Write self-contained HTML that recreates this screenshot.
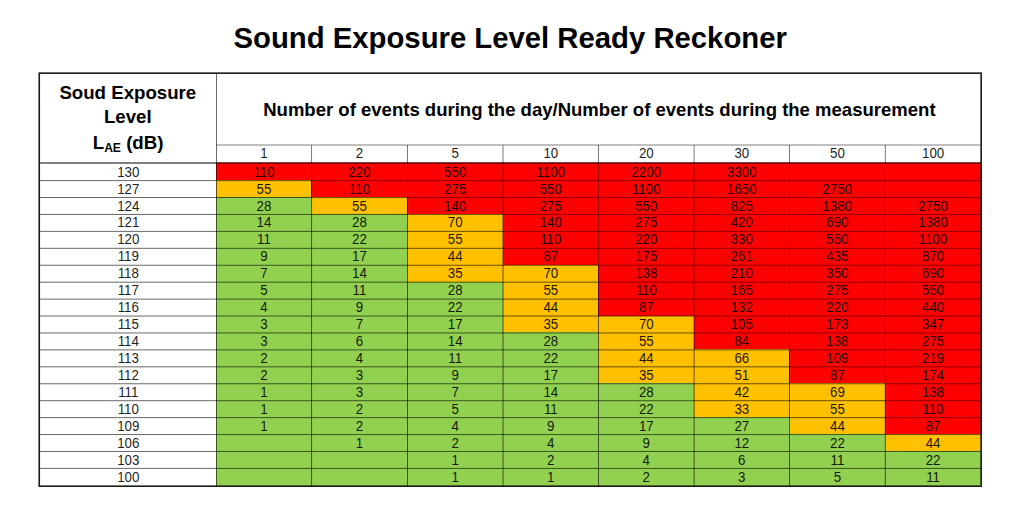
<!DOCTYPE html>
<html lang="en"><head><meta charset="utf-8"><title>Sound Exposure Level Ready Reckoner</title>
<style>
html,body{margin:0;padding:0;background:#fff;}
body{width:1024px;height:514px;overflow:hidden;font-family:"Liberation Sans",sans-serif;}
svg{display:block;}
text{font-family:"Liberation Sans",sans-serif;fill:#000;}
.d{font-size:13.33px;text-anchor:middle;fill-opacity:0.9;}
.b{font-weight:bold;text-anchor:middle;}
</style></head><body>
<svg width="1024" height="514" viewBox="0 0 1024 514">
<rect x="0" y="0" width="1024" height="514" fill="#ffffff"/>
<text class="b" transform="translate(510.2,47.6) scale(1,1.02)" font-size="29.3">Sound Exposure Level Ready Reckoner</text>
<g shape-rendering="crispEdges">
<rect x="216" y="162.5" width="765" height="17.5" fill="#ff0000" shape-rendering="geometricPrecision"/>
<rect x="216" y="180" width="95" height="17" fill="#ffc000"/>
<rect x="311" y="180" width="670" height="17" fill="#ff0000"/>
<rect x="216" y="197" width="95" height="17" fill="#92d050"/>
<rect x="311" y="197" width="96" height="17" fill="#ffc000"/>
<rect x="407" y="197" width="574" height="17" fill="#ff0000"/>
<rect x="216" y="214" width="191" height="17" fill="#92d050"/>
<rect x="407" y="214" width="96" height="17" fill="#ffc000"/>
<rect x="503" y="214" width="478" height="17" fill="#ff0000"/>
<rect x="216" y="231" width="191" height="17" fill="#92d050"/>
<rect x="407" y="231" width="96" height="17" fill="#ffc000"/>
<rect x="503" y="231" width="478" height="17" fill="#ff0000"/>
<rect x="216" y="248" width="191" height="17" fill="#92d050"/>
<rect x="407" y="248" width="96" height="17" fill="#ffc000"/>
<rect x="503" y="248" width="478" height="17" fill="#ff0000"/>
<rect x="216" y="265" width="191" height="17" fill="#92d050"/>
<rect x="407" y="265" width="191" height="17" fill="#ffc000"/>
<rect x="598" y="265" width="383" height="17" fill="#ff0000"/>
<rect x="216" y="282" width="287" height="17" fill="#92d050"/>
<rect x="503" y="282" width="95" height="17" fill="#ffc000"/>
<rect x="598" y="282" width="383" height="17" fill="#ff0000"/>
<rect x="216" y="299" width="287" height="17" fill="#92d050"/>
<rect x="503" y="299" width="95" height="17" fill="#ffc000"/>
<rect x="598" y="299" width="383" height="17" fill="#ff0000"/>
<rect x="216" y="316" width="287" height="16" fill="#92d050"/>
<rect x="503" y="316" width="191" height="16" fill="#ffc000"/>
<rect x="694" y="316" width="287" height="16" fill="#ff0000"/>
<rect x="216" y="332" width="382" height="17" fill="#92d050"/>
<rect x="598" y="332" width="96" height="17" fill="#ffc000"/>
<rect x="694" y="332" width="287" height="17" fill="#ff0000"/>
<rect x="216" y="349" width="382" height="17" fill="#92d050"/>
<rect x="598" y="349" width="191" height="17" fill="#ffc000"/>
<rect x="789" y="349" width="192" height="17" fill="#ff0000"/>
<rect x="216" y="366" width="382" height="17" fill="#92d050"/>
<rect x="598" y="366" width="191" height="17" fill="#ffc000"/>
<rect x="789" y="366" width="192" height="17" fill="#ff0000"/>
<rect x="216" y="383" width="478" height="17" fill="#92d050"/>
<rect x="694" y="383" width="191" height="17" fill="#ffc000"/>
<rect x="885" y="383" width="96" height="17" fill="#ff0000"/>
<rect x="216" y="400" width="478" height="17" fill="#92d050"/>
<rect x="694" y="400" width="191" height="17" fill="#ffc000"/>
<rect x="885" y="400" width="96" height="17" fill="#ff0000"/>
<rect x="216" y="417" width="573" height="17" fill="#92d050"/>
<rect x="789" y="417" width="96" height="17" fill="#ffc000"/>
<rect x="885" y="417" width="96" height="17" fill="#ff0000"/>
<rect x="216" y="434" width="669" height="17" fill="#92d050"/>
<rect x="885" y="434" width="96" height="17" fill="#ffc000"/>
<rect x="216" y="451" width="765" height="17" fill="#92d050"/>
<rect x="216" y="468" width="765" height="18" fill="#92d050"/>
</g>
<g stroke="#000" stroke-width="0.85" fill="none">
<line x1="39.0" y1="180.60" x2="216.5" y2="180.60" stroke-opacity="0.70"/>
<line x1="216.5" y1="180.60" x2="311.6" y2="180.60" stroke-opacity="0.70"/>
<line x1="311.6" y1="180.60" x2="981.0" y2="180.60" stroke-opacity="0.53"/>
<line x1="39.0" y1="197.53" x2="216.5" y2="197.53" stroke-opacity="0.70"/>
<line x1="216.5" y1="197.53" x2="407.5" y2="197.53" stroke-opacity="0.70"/>
<line x1="407.5" y1="197.53" x2="981.0" y2="197.53" stroke-opacity="0.53"/>
<line x1="39.0" y1="214.46" x2="216.5" y2="214.46" stroke-opacity="0.70"/>
<line x1="216.5" y1="214.46" x2="503.0" y2="214.46" stroke-opacity="0.70"/>
<line x1="503.0" y1="214.46" x2="981.0" y2="214.46" stroke-opacity="0.53"/>
<line x1="39.0" y1="231.39" x2="216.5" y2="231.39" stroke-opacity="0.70"/>
<line x1="216.5" y1="231.39" x2="503.0" y2="231.39" stroke-opacity="0.70"/>
<line x1="503.0" y1="231.39" x2="981.0" y2="231.39" stroke-opacity="0.53"/>
<line x1="39.0" y1="248.32" x2="216.5" y2="248.32" stroke-opacity="0.70"/>
<line x1="216.5" y1="248.32" x2="503.0" y2="248.32" stroke-opacity="0.70"/>
<line x1="503.0" y1="248.32" x2="981.0" y2="248.32" stroke-opacity="0.53"/>
<line x1="39.0" y1="265.25" x2="216.5" y2="265.25" stroke-opacity="0.70"/>
<line x1="216.5" y1="265.25" x2="598.5" y2="265.25" stroke-opacity="0.70"/>
<line x1="598.5" y1="265.25" x2="981.0" y2="265.25" stroke-opacity="0.53"/>
<line x1="39.0" y1="282.18" x2="216.5" y2="282.18" stroke-opacity="0.70"/>
<line x1="216.5" y1="282.18" x2="598.5" y2="282.18" stroke-opacity="0.70"/>
<line x1="598.5" y1="282.18" x2="981.0" y2="282.18" stroke-opacity="0.53"/>
<line x1="39.0" y1="299.11" x2="216.5" y2="299.11" stroke-opacity="0.70"/>
<line x1="216.5" y1="299.11" x2="598.5" y2="299.11" stroke-opacity="0.70"/>
<line x1="598.5" y1="299.11" x2="981.0" y2="299.11" stroke-opacity="0.53"/>
<line x1="39.0" y1="316.04" x2="216.5" y2="316.04" stroke-opacity="0.70"/>
<line x1="216.5" y1="316.04" x2="694.1" y2="316.04" stroke-opacity="0.70"/>
<line x1="694.1" y1="316.04" x2="981.0" y2="316.04" stroke-opacity="0.53"/>
<line x1="39.0" y1="332.97" x2="216.5" y2="332.97" stroke-opacity="0.70"/>
<line x1="216.5" y1="332.97" x2="694.1" y2="332.97" stroke-opacity="0.70"/>
<line x1="694.1" y1="332.97" x2="981.0" y2="332.97" stroke-opacity="0.53"/>
<line x1="39.0" y1="349.90" x2="216.5" y2="349.90" stroke-opacity="0.70"/>
<line x1="216.5" y1="349.90" x2="789.5" y2="349.90" stroke-opacity="0.70"/>
<line x1="789.5" y1="349.90" x2="981.0" y2="349.90" stroke-opacity="0.53"/>
<line x1="39.0" y1="366.83" x2="216.5" y2="366.83" stroke-opacity="0.70"/>
<line x1="216.5" y1="366.83" x2="789.5" y2="366.83" stroke-opacity="0.70"/>
<line x1="789.5" y1="366.83" x2="981.0" y2="366.83" stroke-opacity="0.53"/>
<line x1="39.0" y1="383.76" x2="216.5" y2="383.76" stroke-opacity="0.70"/>
<line x1="216.5" y1="383.76" x2="885.3" y2="383.76" stroke-opacity="0.70"/>
<line x1="885.3" y1="383.76" x2="981.0" y2="383.76" stroke-opacity="0.53"/>
<line x1="39.0" y1="400.69" x2="216.5" y2="400.69" stroke-opacity="0.70"/>
<line x1="216.5" y1="400.69" x2="885.3" y2="400.69" stroke-opacity="0.70"/>
<line x1="885.3" y1="400.69" x2="981.0" y2="400.69" stroke-opacity="0.53"/>
<line x1="39.0" y1="417.62" x2="216.5" y2="417.62" stroke-opacity="0.70"/>
<line x1="216.5" y1="417.62" x2="885.3" y2="417.62" stroke-opacity="0.70"/>
<line x1="885.3" y1="417.62" x2="981.0" y2="417.62" stroke-opacity="0.53"/>
<line x1="39.0" y1="434.55" x2="216.5" y2="434.55" stroke-opacity="0.70"/>
<line x1="216.5" y1="434.55" x2="981.0" y2="434.55" stroke-opacity="0.70"/>
<line x1="39.0" y1="451.48" x2="216.5" y2="451.48" stroke-opacity="0.70"/>
<line x1="216.5" y1="451.48" x2="981.0" y2="451.48" stroke-opacity="0.70"/>
<line x1="39.0" y1="468.41" x2="216.5" y2="468.41" stroke-opacity="0.70"/>
<line x1="216.5" y1="468.41" x2="981.0" y2="468.41" stroke-opacity="0.70"/>
<line x1="311.55" y1="145.0" x2="311.55" y2="163.0" stroke-opacity="0.62"/>
<line x1="311.55" y1="163.00" x2="311.55" y2="180.60" stroke-opacity="0.45"/>
<line x1="311.55" y1="180.60" x2="311.55" y2="486.00" stroke-opacity="0.70"/>
<line x1="407.50" y1="145.0" x2="407.50" y2="163.0" stroke-opacity="0.62"/>
<line x1="407.50" y1="163.00" x2="407.50" y2="197.53" stroke-opacity="0.45"/>
<line x1="407.50" y1="197.53" x2="407.50" y2="486.00" stroke-opacity="0.70"/>
<line x1="503.00" y1="145.0" x2="503.00" y2="163.0" stroke-opacity="0.62"/>
<line x1="503.00" y1="163.00" x2="503.00" y2="214.46" stroke-opacity="0.45"/>
<line x1="503.00" y1="214.46" x2="503.00" y2="486.00" stroke-opacity="0.70"/>
<line x1="598.50" y1="145.0" x2="598.50" y2="163.0" stroke-opacity="0.62"/>
<line x1="598.50" y1="163.00" x2="598.50" y2="265.25" stroke-opacity="0.45"/>
<line x1="598.50" y1="265.25" x2="598.50" y2="486.00" stroke-opacity="0.70"/>
<line x1="694.10" y1="145.0" x2="694.10" y2="163.0" stroke-opacity="0.62"/>
<line x1="694.10" y1="163.00" x2="694.10" y2="316.04" stroke-opacity="0.45"/>
<line x1="694.10" y1="316.04" x2="694.10" y2="486.00" stroke-opacity="0.70"/>
<line x1="789.50" y1="145.0" x2="789.50" y2="163.0" stroke-opacity="0.62"/>
<line x1="789.50" y1="163.00" x2="789.50" y2="349.90" stroke-opacity="0.45"/>
<line x1="789.50" y1="349.90" x2="789.50" y2="486.00" stroke-opacity="0.70"/>
<line x1="885.30" y1="145.0" x2="885.30" y2="163.0" stroke-opacity="0.62"/>
<line x1="885.30" y1="163.00" x2="885.30" y2="383.76" stroke-opacity="0.45"/>
<line x1="885.30" y1="383.76" x2="885.30" y2="486.00" stroke-opacity="0.70"/>
<line x1="216.50" y1="73.0" x2="216.50" y2="486.0" stroke-opacity="0.70"/>
</g>
<line x1="216.5" y1="145.0" x2="981.0" y2="145.0" stroke="rgba(0,0,0,0.33)" stroke-width="1.6"/>
<line x1="39.0" y1="163.0" x2="981.0" y2="163.0" stroke="rgba(0,0,0,0.5)" stroke-width="1.9"/>
<rect x="39.25" y="73.15" width="941.90" height="413.05" fill="none" stroke="#1a1a1a" stroke-width="1.6"/>
<text class="b" x="127.8" y="98.8" font-size="18.67">Soud Exposure</text>
<text class="b" x="127.8" y="123.1" font-size="18.67">Level</text>
<text class="b" x="128.1" y="148.6" font-size="18.67">L<tspan font-size="12.1" dy="3.6">AE</tspan><tspan dy="-3.6"> (dB)</tspan></text>
<text class="b" x="599.4" y="115.6" font-size="18.54">Number of events during the day/Number of events during the measurement</text>
<text class="d" transform="translate(264.0,157.8) scale(1,1.04)">1</text>
<text class="d" transform="translate(359.5,157.8) scale(1,1.04)">2</text>
<text class="d" transform="translate(455.2,157.8) scale(1,1.04)">5</text>
<text class="d" transform="translate(550.8,157.8) scale(1,1.04)">10</text>
<text class="d" transform="translate(646.3,157.8) scale(1,1.04)">20</text>
<text class="d" transform="translate(741.8,157.8) scale(1,1.04)">30</text>
<text class="d" transform="translate(837.4,157.8) scale(1,1.04)">50</text>
<text class="d" transform="translate(933.1,157.8) scale(1,1.04)">100</text>
<text class="d" transform="translate(128.3,176.6) scale(1,1.04)">130</text>
<text class="d" transform="translate(264.0,176.6) scale(1,1.04)">110</text>
<text class="d" transform="translate(359.5,176.6) scale(1,1.04)">220</text>
<text class="d" transform="translate(455.2,176.6) scale(1,1.04)">550</text>
<text class="d" transform="translate(550.8,176.6) scale(1,1.04)">1100</text>
<text class="d" transform="translate(646.3,176.6) scale(1,1.04)">2200</text>
<text class="d" transform="translate(741.8,176.6) scale(1,1.04)">3300</text>
<text class="d" transform="translate(128.3,193.5) scale(1,1.04)">127</text>
<text class="d" transform="translate(264.0,193.5) scale(1,1.04)">55</text>
<text class="d" transform="translate(359.5,193.5) scale(1,1.04)">110</text>
<text class="d" transform="translate(455.2,193.5) scale(1,1.04)">275</text>
<text class="d" transform="translate(550.8,193.5) scale(1,1.04)">550</text>
<text class="d" transform="translate(646.3,193.5) scale(1,1.04)">1100</text>
<text class="d" transform="translate(741.8,193.5) scale(1,1.04)">1650</text>
<text class="d" transform="translate(837.4,193.5) scale(1,1.04)">2750</text>
<text class="d" transform="translate(128.3,210.5) scale(1,1.04)">124</text>
<text class="d" transform="translate(264.0,210.5) scale(1,1.04)">28</text>
<text class="d" transform="translate(359.5,210.5) scale(1,1.04)">55</text>
<text class="d" transform="translate(455.2,210.5) scale(1,1.04)">140</text>
<text class="d" transform="translate(550.8,210.5) scale(1,1.04)">275</text>
<text class="d" transform="translate(646.3,210.5) scale(1,1.04)">550</text>
<text class="d" transform="translate(741.8,210.5) scale(1,1.04)">825</text>
<text class="d" transform="translate(837.4,210.5) scale(1,1.04)">1380</text>
<text class="d" transform="translate(933.1,210.5) scale(1,1.04)">2750</text>
<text class="d" transform="translate(128.3,227.4) scale(1,1.04)">121</text>
<text class="d" transform="translate(264.0,227.4) scale(1,1.04)">14</text>
<text class="d" transform="translate(359.5,227.4) scale(1,1.04)">28</text>
<text class="d" transform="translate(455.2,227.4) scale(1,1.04)">70</text>
<text class="d" transform="translate(550.8,227.4) scale(1,1.04)">140</text>
<text class="d" transform="translate(646.3,227.4) scale(1,1.04)">275</text>
<text class="d" transform="translate(741.8,227.4) scale(1,1.04)">420</text>
<text class="d" transform="translate(837.4,227.4) scale(1,1.04)">690</text>
<text class="d" transform="translate(933.1,227.4) scale(1,1.04)">1380</text>
<text class="d" transform="translate(128.3,244.4) scale(1,1.04)">120</text>
<text class="d" transform="translate(264.0,244.4) scale(1,1.04)">11</text>
<text class="d" transform="translate(359.5,244.4) scale(1,1.04)">22</text>
<text class="d" transform="translate(455.2,244.4) scale(1,1.04)">55</text>
<text class="d" transform="translate(550.8,244.4) scale(1,1.04)">110</text>
<text class="d" transform="translate(646.3,244.4) scale(1,1.04)">220</text>
<text class="d" transform="translate(741.8,244.4) scale(1,1.04)">330</text>
<text class="d" transform="translate(837.4,244.4) scale(1,1.04)">550</text>
<text class="d" transform="translate(933.1,244.4) scale(1,1.04)">1100</text>
<text class="d" transform="translate(128.3,261.4) scale(1,1.04)">119</text>
<text class="d" transform="translate(264.0,261.4) scale(1,1.04)">9</text>
<text class="d" transform="translate(359.5,261.4) scale(1,1.04)">17</text>
<text class="d" transform="translate(455.2,261.4) scale(1,1.04)">44</text>
<text class="d" transform="translate(550.8,261.4) scale(1,1.04)">87</text>
<text class="d" transform="translate(646.3,261.4) scale(1,1.04)">175</text>
<text class="d" transform="translate(741.8,261.4) scale(1,1.04)">261</text>
<text class="d" transform="translate(837.4,261.4) scale(1,1.04)">435</text>
<text class="d" transform="translate(933.1,261.4) scale(1,1.04)">870</text>
<text class="d" transform="translate(128.3,278.3) scale(1,1.04)">118</text>
<text class="d" transform="translate(264.0,278.3) scale(1,1.04)">7</text>
<text class="d" transform="translate(359.5,278.3) scale(1,1.04)">14</text>
<text class="d" transform="translate(455.2,278.3) scale(1,1.04)">35</text>
<text class="d" transform="translate(550.8,278.3) scale(1,1.04)">70</text>
<text class="d" transform="translate(646.3,278.3) scale(1,1.04)">138</text>
<text class="d" transform="translate(741.8,278.3) scale(1,1.04)">210</text>
<text class="d" transform="translate(837.4,278.3) scale(1,1.04)">350</text>
<text class="d" transform="translate(933.1,278.3) scale(1,1.04)">690</text>
<text class="d" transform="translate(128.3,295.3) scale(1,1.04)">117</text>
<text class="d" transform="translate(264.0,295.3) scale(1,1.04)">5</text>
<text class="d" transform="translate(359.5,295.3) scale(1,1.04)">11</text>
<text class="d" transform="translate(455.2,295.3) scale(1,1.04)">28</text>
<text class="d" transform="translate(550.8,295.3) scale(1,1.04)">55</text>
<text class="d" transform="translate(646.3,295.3) scale(1,1.04)">110</text>
<text class="d" transform="translate(741.8,295.3) scale(1,1.04)">165</text>
<text class="d" transform="translate(837.4,295.3) scale(1,1.04)">275</text>
<text class="d" transform="translate(933.1,295.3) scale(1,1.04)">550</text>
<text class="d" transform="translate(128.3,312.2) scale(1,1.04)">116</text>
<text class="d" transform="translate(264.0,312.2) scale(1,1.04)">4</text>
<text class="d" transform="translate(359.5,312.2) scale(1,1.04)">9</text>
<text class="d" transform="translate(455.2,312.2) scale(1,1.04)">22</text>
<text class="d" transform="translate(550.8,312.2) scale(1,1.04)">44</text>
<text class="d" transform="translate(646.3,312.2) scale(1,1.04)">87</text>
<text class="d" transform="translate(741.8,312.2) scale(1,1.04)">132</text>
<text class="d" transform="translate(837.4,312.2) scale(1,1.04)">220</text>
<text class="d" transform="translate(933.1,312.2) scale(1,1.04)">440</text>
<text class="d" transform="translate(128.3,329.2) scale(1,1.04)">115</text>
<text class="d" transform="translate(264.0,329.2) scale(1,1.04)">3</text>
<text class="d" transform="translate(359.5,329.2) scale(1,1.04)">7</text>
<text class="d" transform="translate(455.2,329.2) scale(1,1.04)">17</text>
<text class="d" transform="translate(550.8,329.2) scale(1,1.04)">35</text>
<text class="d" transform="translate(646.3,329.2) scale(1,1.04)">70</text>
<text class="d" transform="translate(741.8,329.2) scale(1,1.04)">105</text>
<text class="d" transform="translate(837.4,329.2) scale(1,1.04)">173</text>
<text class="d" transform="translate(933.1,329.2) scale(1,1.04)">347</text>
<text class="d" transform="translate(128.3,346.2) scale(1,1.04)">114</text>
<text class="d" transform="translate(264.0,346.2) scale(1,1.04)">3</text>
<text class="d" transform="translate(359.5,346.2) scale(1,1.04)">6</text>
<text class="d" transform="translate(455.2,346.2) scale(1,1.04)">14</text>
<text class="d" transform="translate(550.8,346.2) scale(1,1.04)">28</text>
<text class="d" transform="translate(646.3,346.2) scale(1,1.04)">55</text>
<text class="d" transform="translate(741.8,346.2) scale(1,1.04)">84</text>
<text class="d" transform="translate(837.4,346.2) scale(1,1.04)">138</text>
<text class="d" transform="translate(933.1,346.2) scale(1,1.04)">275</text>
<text class="d" transform="translate(128.3,363.1) scale(1,1.04)">113</text>
<text class="d" transform="translate(264.0,363.1) scale(1,1.04)">2</text>
<text class="d" transform="translate(359.5,363.1) scale(1,1.04)">4</text>
<text class="d" transform="translate(455.2,363.1) scale(1,1.04)">11</text>
<text class="d" transform="translate(550.8,363.1) scale(1,1.04)">22</text>
<text class="d" transform="translate(646.3,363.1) scale(1,1.04)">44</text>
<text class="d" transform="translate(741.8,363.1) scale(1,1.04)">66</text>
<text class="d" transform="translate(837.4,363.1) scale(1,1.04)">109</text>
<text class="d" transform="translate(933.1,363.1) scale(1,1.04)">219</text>
<text class="d" transform="translate(128.3,380.1) scale(1,1.04)">112</text>
<text class="d" transform="translate(264.0,380.1) scale(1,1.04)">2</text>
<text class="d" transform="translate(359.5,380.1) scale(1,1.04)">3</text>
<text class="d" transform="translate(455.2,380.1) scale(1,1.04)">9</text>
<text class="d" transform="translate(550.8,380.1) scale(1,1.04)">17</text>
<text class="d" transform="translate(646.3,380.1) scale(1,1.04)">35</text>
<text class="d" transform="translate(741.8,380.1) scale(1,1.04)">51</text>
<text class="d" transform="translate(837.4,380.1) scale(1,1.04)">87</text>
<text class="d" transform="translate(933.1,380.1) scale(1,1.04)">174</text>
<text class="d" transform="translate(128.3,397.0) scale(1,1.04)">111</text>
<text class="d" transform="translate(264.0,397.0) scale(1,1.04)">1</text>
<text class="d" transform="translate(359.5,397.0) scale(1,1.04)">3</text>
<text class="d" transform="translate(455.2,397.0) scale(1,1.04)">7</text>
<text class="d" transform="translate(550.8,397.0) scale(1,1.04)">14</text>
<text class="d" transform="translate(646.3,397.0) scale(1,1.04)">28</text>
<text class="d" transform="translate(741.8,397.0) scale(1,1.04)">42</text>
<text class="d" transform="translate(837.4,397.0) scale(1,1.04)">69</text>
<text class="d" transform="translate(933.1,397.0) scale(1,1.04)">138</text>
<text class="d" transform="translate(128.3,414.0) scale(1,1.04)">110</text>
<text class="d" transform="translate(264.0,414.0) scale(1,1.04)">1</text>
<text class="d" transform="translate(359.5,414.0) scale(1,1.04)">2</text>
<text class="d" transform="translate(455.2,414.0) scale(1,1.04)">5</text>
<text class="d" transform="translate(550.8,414.0) scale(1,1.04)">11</text>
<text class="d" transform="translate(646.3,414.0) scale(1,1.04)">22</text>
<text class="d" transform="translate(741.8,414.0) scale(1,1.04)">33</text>
<text class="d" transform="translate(837.4,414.0) scale(1,1.04)">55</text>
<text class="d" transform="translate(933.1,414.0) scale(1,1.04)">110</text>
<text class="d" transform="translate(128.3,431.0) scale(1,1.04)">109</text>
<text class="d" transform="translate(264.0,431.0) scale(1,1.04)">1</text>
<text class="d" transform="translate(359.5,431.0) scale(1,1.04)">2</text>
<text class="d" transform="translate(455.2,431.0) scale(1,1.04)">4</text>
<text class="d" transform="translate(550.8,431.0) scale(1,1.04)">9</text>
<text class="d" transform="translate(646.3,431.0) scale(1,1.04)">17</text>
<text class="d" transform="translate(741.8,431.0) scale(1,1.04)">27</text>
<text class="d" transform="translate(837.4,431.0) scale(1,1.04)">44</text>
<text class="d" transform="translate(933.1,431.0) scale(1,1.04)">87</text>
<text class="d" transform="translate(128.3,447.9) scale(1,1.04)">106</text>
<text class="d" transform="translate(359.5,447.9) scale(1,1.04)">1</text>
<text class="d" transform="translate(455.2,447.9) scale(1,1.04)">2</text>
<text class="d" transform="translate(550.8,447.9) scale(1,1.04)">4</text>
<text class="d" transform="translate(646.3,447.9) scale(1,1.04)">9</text>
<text class="d" transform="translate(741.8,447.9) scale(1,1.04)">12</text>
<text class="d" transform="translate(837.4,447.9) scale(1,1.04)">22</text>
<text class="d" transform="translate(933.1,447.9) scale(1,1.04)">44</text>
<text class="d" transform="translate(128.3,464.9) scale(1,1.04)">103</text>
<text class="d" transform="translate(455.2,464.9) scale(1,1.04)">1</text>
<text class="d" transform="translate(550.8,464.9) scale(1,1.04)">2</text>
<text class="d" transform="translate(646.3,464.9) scale(1,1.04)">4</text>
<text class="d" transform="translate(741.8,464.9) scale(1,1.04)">6</text>
<text class="d" transform="translate(837.4,464.9) scale(1,1.04)">11</text>
<text class="d" transform="translate(933.1,464.9) scale(1,1.04)">22</text>
<text class="d" transform="translate(128.3,481.8) scale(1,1.04)">100</text>
<text class="d" transform="translate(455.2,481.8) scale(1,1.04)">1</text>
<text class="d" transform="translate(550.8,481.8) scale(1,1.04)">1</text>
<text class="d" transform="translate(646.3,481.8) scale(1,1.04)">2</text>
<text class="d" transform="translate(741.8,481.8) scale(1,1.04)">3</text>
<text class="d" transform="translate(837.4,481.8) scale(1,1.04)">5</text>
<text class="d" transform="translate(933.1,481.8) scale(1,1.04)">11</text>
</svg>
</body></html>
